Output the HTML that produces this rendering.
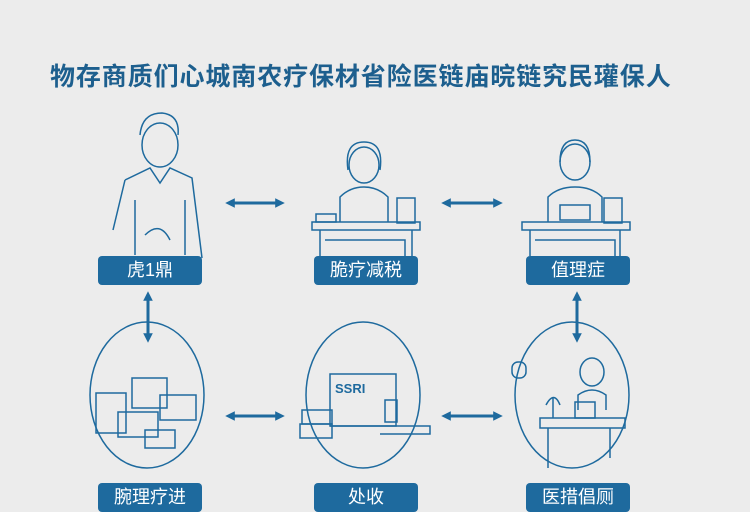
<!DOCTYPE html>
<html><head><meta charset="utf-8"><style>
html,body{margin:0;padding:0;background:#ececec;}
body{width:750px;height:500px;overflow:hidden;position:relative;font-family:"Liberation Sans","Noto Sans CJK SC",sans-serif;}
.t{position:absolute;left:50px;top:57px;font-size:25px;font-weight:bold;color:#1d5f8e;letter-spacing:0.9px;white-space:nowrap}
.lb{position:absolute;width:104px;height:29px;background:#1e6a9e;color:#fff;border-radius:4px;font-size:18px;text-align:center;line-height:29px}
</style></head><body>
<div class="t">物存商质们心城南农疗保材省险医链庙晥链究民瓘保人</div>
<svg width="750" height="500" style="position:absolute;left:0;top:0">
<defs><marker id="a" viewBox="0 0 10 10" refX="5" refY="5" markerWidth="3.2" markerHeight="3.2" orient="auto-start-reverse"><path d="M0,0L10,5L0,10z" fill="#1e6a9e"/></marker></defs>
<g stroke="#1e6a9e" stroke-width="3" marker-start="url(#a)" marker-end="url(#a)">
<line x1="230" y1="203" x2="280" y2="203"/><line x1="446" y1="203" x2="498" y2="203"/>
<line x1="230" y1="416" x2="280" y2="416"/><line x1="446" y1="416" x2="498" y2="416"/>
<line x1="148" y1="296" x2="148" y2="338"/><line x1="577" y1="296" x2="577" y2="338"/>
</g>
<g fill="none" stroke="#1e6a9e" stroke-width="1.5">
<ellipse cx="147" cy="395" rx="57" ry="73"/><ellipse cx="363" cy="395" rx="57" ry="73"/><ellipse cx="572" cy="395" rx="57" ry="73"/>
<ellipse cx="160" cy="145" rx="18" ry="22"/><path d="M140,135q2,-22 22,-22q18,2 16,22"/>
<path d="M125,180l25,-12 10,15 10,-15 22,10 10,80M125,180l-12,50M135,200v55M185,200v55"/>
<path d="M145,235q15,-15 25,5"/>
<ellipse cx="364" cy="165" rx="15" ry="18"/><path d="M348,170q-4,-28 16,-28q20,0 16,28"/>
<path d="M340,222v-25q10,-10 24,-10q14,0 24,10v25"/>
<rect x="312" y="222" width="108" height="8"/><path d="M320,230v26M412,230v26M325,240h80v16"/>
<rect x="397" y="198" width="18" height="25"/><rect x="316" y="214" width="20" height="8"/>
<ellipse cx="575" cy="162" rx="15" ry="18"/><path d="M560,162q0,-22 15,-22q15,0 15,22"/>
<path d="M548,222v-25q10,-10 27,-10q17,0 27,10v25"/>
<rect x="522" y="222" width="108" height="8"/><path d="M530,230v26M620,230v26M535,240h80v16"/>
<rect x="604" y="198" width="18" height="25"/><rect x="560" y="205" width="30" height="15"/>
<rect x="132" y="378" width="35" height="30"/><rect x="160" y="395" width="36" height="25"/><rect x="118" y="412" width="40" height="25"/>
<rect x="96" y="393" width="30" height="40"/><rect x="145" y="430" width="30" height="18"/>
<rect x="330" y="374" width="66" height="52"/><rect x="302" y="410" width="30" height="14"/><rect x="300" y="424" width="32" height="14"/>
<rect x="385" y="400" width="12" height="22"/><path d="M330,426h100v8h-50"/>
<ellipse cx="592" cy="372" rx="12" ry="14"/><path d="M578,410v-15q14,-10 28,0v15"/>
<rect x="540" y="418" width="85" height="10"/><path d="M548,428v40M610,428v30"/>
<rect x="575" y="402" width="20" height="16"/><path d="M553,418v-20M546,405q8,-15 14,0"/>
<rect x="512" y="362" width="14" height="16" rx="6"/>
</g>
<text x="335" y="393" font-family="Liberation Sans" font-weight="bold" font-size="13" fill="#1e6a9e">SSRI</text>
</svg>
<div class="lb" style="left:98px;top:256px">虎1鼎</div>
<div class="lb" style="left:314px;top:256px">脆疗减税</div>
<div class="lb" style="left:526px;top:256px">值理症</div>
<div class="lb" style="left:98px;top:483px">腕理疗进</div>
<div class="lb" style="left:314px;top:483px">处收</div>
<div class="lb" style="left:526px;top:483px">医措倡厕</div>
</body></html>
